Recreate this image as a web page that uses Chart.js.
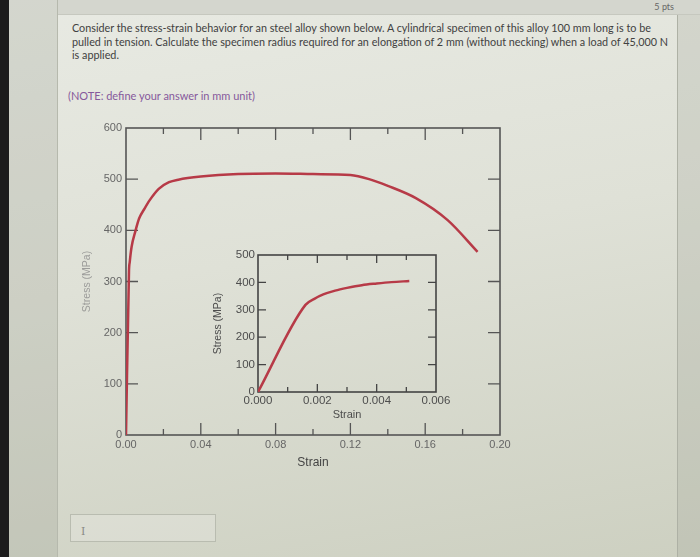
<!DOCTYPE html>
<html lang="en">
<head>
<meta charset="UTF-8">
<title>Stress-strain behavior</title>
<style>
  body {
    margin: 0;
    width: 700px;
    height: 557px;
    overflow: hidden;
    position: relative;
    background: linear-gradient(170deg, #e8eae3 0%, #dfe1d7 45%, #cdd0c1 100%);
    font-family: Lato, "Open Sans", sans-serif;
    color: #4a4a48;
  }
  .edge { position: absolute; left: 0; top: 0; width: 9px; height: 557px; background: #1c1c1c; }
  .side { position: absolute; left: 9px; top: 0; width: 48px; height: 557px; background: rgba(140,145,130,0.22); border-right: 1px solid #b6b9ad; }
  .topbar { position: absolute; left: 58px; top: 0; width: 642px; height: 14px; background: #d4d6ce; border-bottom: 1px solid #c6c8bf; }
  .pts { position: absolute; right: 26px; top: 1px; font-size: 9px; color: #666; }
  .rightside { position: absolute; left: 677px; top: 15px; width: 23px; height: 542px; border-left: 1px solid #aeb1a5; background: rgba(160,163,150,0.25); }
  .question { position: absolute; left: 72px; top: 21px; font-size: 10.8px; line-height: 13.5px; white-space: nowrap; color: #41413f; }
  .note { position: absolute; left: 68px; top: 89px; font-size: 11px; color: #86599c; }
  .answer { position: absolute; left: 70px; top: 514px; width: 144px; height: 26px; border: 1px solid #b9bcb0; background: rgba(235,236,230,0.35); }
  .cursor { position: absolute; left: 10px; top: 10px; font-size: 11px; color: #8a8a86; font-family: "DejaVu Serif", serif; }
  #main { position: absolute; left: 70px; top: 115px; }
  #inset { position: absolute; left: 205px; top: 245px; }
</style>
<script src="https://cdn.jsdelivr.net/npm/chart.js"></script>
</head>
<body>

<div class="edge"></div>
<div class="side"></div>
<div class="topbar"><span class="pts">5 pts</span></div>
<div class="rightside"></div>

<div class="question">
  Consider the stress-strain behavior for an steel alloy shown below. A cylindrical specimen of this alloy 100 mm long is to be<br>
  pulled in tension. Calculate the specimen radius required for an elongation of 2 mm (without necking) when a load of 45,000 N<br>
  is applied.
</div>
<div class="note">(NOTE: define your answer in mm unit)</div>

<canvas id="main" width="450" height="357"></canvas>
<canvas id="inset" width="250" height="177"></canvas>

<div class="answer"><span class="cursor">I</span></div>

<script>
    // main curve
    const mainStrain = [0, 0.0016, 0.002, 0.003, 0.005, 0.007, 0.010, 0.0125, 0.0175, 0.023, 0.028, 0.04, 0.06, 0.08, 0.10, 0.12, 0.13, 0.14, 0.155, 0.172, 0.188];
    const mainStress = [0, 320, 338, 368, 398, 423, 443, 458, 481, 494, 499, 505, 510, 511, 510, 508, 500, 487, 463, 420, 358];

    // inset (elastic region)
    const insetStrain = [0, 0.0016, 0.0019, 0.0022, 0.0026, 0.003, 0.0035, 0.004, 0.0045, 0.0051];
    const insetStress = [0, 318, 340, 356, 370, 380, 390, 396, 401, 405];

    const mainXLabels = ['0.00', '0.04', '0.08', '0.12', '0.16', '0.20'];
    const mainYLabels = ['0', '100', '200', '300', '400', '500', '600'];
    const insetXLabels = ['0.000', '0.002', '0.004', '0.006'];
    const insetYLabels = ['0', '100', '200', '300', '400', '500'];

    const curveColor = '#b73a47';

    // inward tick marks on all four sides plus the frame
    const frameTicks = {
        id: 'frameTicks',
        beforeDatasetsDraw(chart, args, opts) {
            const { ctx, chartArea: a, scales: { x, y } } = chart;
            ctx.save();
            ctx.strokeStyle = opts.color;
            ctx.lineWidth = 1.3;
            ctx.beginPath();
            x.ticks.forEach(t => {
                if (t.value <= x.min || t.value >= x.max) return;
                const px = x.getPixelForValue(t.value);
                const len = t.label ? opts.major : opts.minor;
                ctx.moveTo(px, a.bottom); ctx.lineTo(px, a.bottom - len);
                ctx.moveTo(px, a.top); ctx.lineTo(px, a.top + len);
            });
            y.ticks.forEach(t => {
                if (t.value <= y.min || t.value >= y.max) return;
                const py = y.getPixelForValue(t.value);
                ctx.moveTo(a.left, py); ctx.lineTo(a.left + opts.major, py);
                ctx.moveTo(a.right, py); ctx.lineTo(a.right - opts.major, py);
            });
            ctx.stroke();
            ctx.lineWidth = 1.6;
            ctx.strokeRect(a.left, a.top, a.right - a.left, a.bottom - a.top);
            ctx.restore();
        }
    };

    function points(xs, ys) {
        return xs.map((v, i) => ({ x: v, y: ys[i] }));
    }

    const font = 'Liberation Sans';

    new Chart(document.getElementById('main'), {
        type: 'line',
        data: {
            datasets: [{
                data: points(mainStrain, mainStress),
                borderColor: curveColor,
                borderWidth: 2.5,
                pointRadius: 0,
                cubicInterpolationMode: 'monotone'
            }]
        },
        options: {
            responsive: false,
            animation: false,
            layout: { padding: { top: 13, right: 20, left: 0, bottom: 0 } },
            plugins: {
                legend: { display: false },
                tooltip: { enabled: false },
                frameTicks: { color: '#555', major: 12, minor: 6 }
            },
            scales: {
                x: {
                    type: 'linear', min: 0, max: 0.2,
                    grid: { display: false, drawTicks: false },
                    border: { display: false },
                    afterFit: s => { s.height = 37; },
                    ticks: {
                        stepSize: 0.02, autoSkip: false, maxRotation: 0, padding: 3,
                        color: '#666', font: { family: font, size: 11 },
                        callback: v => mainXLabels.includes(v.toFixed(2)) ? v.toFixed(2) : ''
                    },
                    title: { display: true, text: 'Strain', color: '#444', font: { family: font, size: 12 }, padding: { top: 0, bottom: 2 } }
                },
                y: {
                    min: 0, max: 600,
                    grid: { display: false, drawTicks: false },
                    border: { display: false },
                    afterFit: s => { s.width = 56; },
                    ticks: {
                        stepSize: 100, padding: 4,
                        color: '#666', font: { family: font, size: 11 },
                        callback: v => mainYLabels.includes(String(v)) ? String(v) : ''
                    },
                    title: { display: true, text: 'Stress (MPa)', color: '#9c9c9a', font: { family: font, size: 10.5 }, padding: { top: 11, bottom: 0 } }
                }
            }
        },
        plugins: [frameTicks]
    });

    new Chart(document.getElementById('inset'), {
        type: 'line',
        data: {
            datasets: [{
                data: points(insetStrain, insetStress),
                borderColor: curveColor,
                borderWidth: 2.5,
                pointRadius: 0,
                cubicInterpolationMode: 'monotone'
            }]
        },
        options: {
            responsive: false,
            animation: false,
            layout: { padding: { top: 10, right: 19, left: 0, bottom: 0 } },
            plugins: {
                legend: { display: false },
                tooltip: { enabled: false },
                frameTicks: { color: '#444', major: 8, minor: 5 }
            },
            scales: {
                x: {
                    type: 'linear', min: 0, max: 0.006,
                    grid: { display: false, drawTicks: false },
                    border: { display: false },
                    afterFit: s => { s.height = 30; },
                    ticks: {
                        stepSize: 0.001, autoSkip: false, maxRotation: 0, padding: 2,
                        color: '#4d4d4d', font: { family: font, size: 11.5 },
                        callback: v => insetXLabels.includes(v.toFixed(3)) ? v.toFixed(3) : ''
                    },
                    title: { display: true, text: 'Strain', color: '#4d4d4d', font: { family: font, size: 11 }, padding: { top: 0, bottom: 0 } }
                },
                y: {
                    min: 0, max: 500,
                    grid: { display: false, drawTicks: false },
                    border: { display: false },
                    afterFit: s => { s.width = 53; },
                    ticks: {
                        stepSize: 100, padding: 3,
                        color: '#4d4d4d', font: { family: font, size: 11.5 },
                        callback: v => insetYLabels.includes(String(v)) ? String(v) : ''
                    },
                    title: { display: true, text: 'Stress (MPa)', color: '#4d4d4d', font: { family: font, size: 10.5 }, padding: { top: 7, bottom: 0 } }
                }
            }
        },
        plugins: [frameTicks]
    });
</script>

</body>
</html>
